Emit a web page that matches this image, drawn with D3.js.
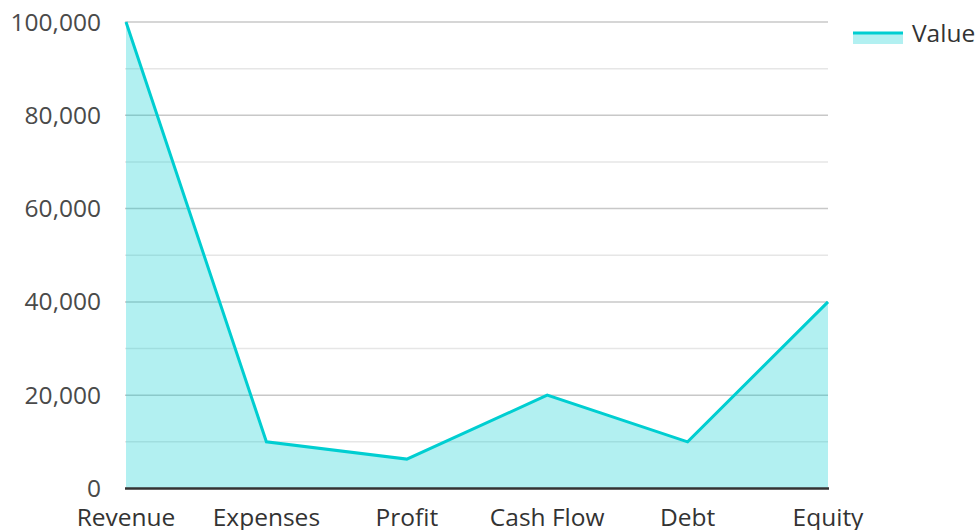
<!DOCTYPE html>
<html><head><meta charset="utf-8">
<script src="https://cdn.jsdelivr.net/npm/d3@7"></script>
<style>body{margin:0;background:#fff}svg{display:block;font-family:"Open Sans",sans-serif}</style>
</head><body><svg id="c" width="978" height="530"></svg>
<script>
const categories = ["Revenue","Expenses","Profit","Cash Flow","Debt","Equity"];
const values = [100000,10000,6300,20000,10000,40000];
const seriesName = "Value";
const yTicks = [0,20000,40000,60000,80000,100000];
const minorTicks = [10000,30000,50000,70000,90000];

const svg = d3.select("#c");
const m = {l:126, r:828, t:22, b:488.5};
const x = d3.scalePoint().domain(categories).range([m.l, m.r]).padding(0);
const y = d3.scaleLinear().domain([0,100000]).range([m.b, m.t]);
const color = "rgb(0,206,209)";
const fs = 24.5;

const g = svg.append("g");
g.selectAll("line.minor").data(minorTicks).enter().append("line")
  .attr("x1", m.l-1).attr("x2", m.r).attr("y1", d=>y(d)).attr("y2", d=>y(d))
  .attr("stroke", "#e6e6e6").attr("stroke-width", 1.5);
g.selectAll("line.major").data(yTicks.filter(d=>d>0)).enter().append("line")
  .attr("x1", m.l-1).attr("x2", m.r).attr("y1", d=>y(d)).attr("y2", d=>y(d))
  .attr("stroke", "#c8c8c8").attr("stroke-width", 1.5);

const data = categories.map((c,i)=>({c, v: values[i]}));
g.append("path").datum(data)
  .attr("d", d3.area().x(d=>x(d.c)).y0(y(0)).y1(d=>y(d.v)))
  .attr("fill", color).attr("fill-opacity", 0.3);
g.append("path").datum(data)
  .attr("d", d3.line().x(d=>x(d.c)).y(d=>y(d.v)))
  .attr("fill", "none").attr("stroke", color).attr("stroke-width", 3);

g.append("line").attr("x1", m.l-1).attr("x2", m.r+1).attr("y1", y(0)).attr("y2", y(0))
  .attr("stroke", "#333").attr("stroke-width", 2.5);

const fmt = d3.format(",");
g.selectAll("text.yl").data(yTicks).enter().append("text")
  .attr("x", 101).attr("y", d=>y(d)).attr("dy", "0.35em")
  .attr("text-anchor", "end").attr("font-size", fs).attr("fill", "#4a4a4a")
  .text(d=>fmt(d));
g.selectAll("text.xl").data(categories).enter().append("text")
  .attr("x", d=>x(d)).attr("y", 526)
  .attr("text-anchor", "middle").attr("font-size", fs).attr("fill", "#333")
  .text(d=>d);

const lg = svg.append("g");
lg.append("rect").attr("x", 853).attr("y", 33).attr("width", 50).attr("height", 11)
  .attr("fill", color).attr("fill-opacity", 0.3);
lg.append("line").attr("x1", 853).attr("x2", 903).attr("y1", 33).attr("y2", 33)
  .attr("stroke", color).attr("stroke-width", 3);
lg.append("text").attr("x", 912).attr("y", 33).attr("dy", "0.35em")
  .attr("font-size", fs).attr("fill", "#333").text(seriesName);
</script></body></html>
